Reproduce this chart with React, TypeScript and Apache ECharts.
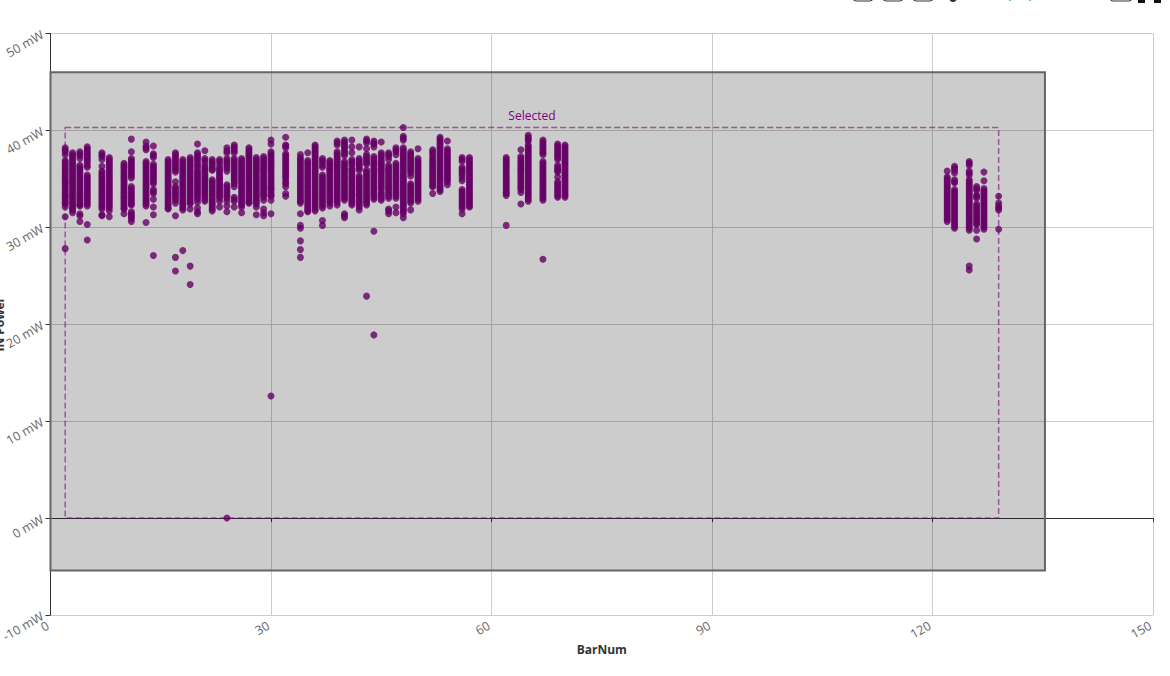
import React, { useEffect, useRef } from "react";
import * as echarts from "echarts";

const barNums = [2,3,4,5,7,8,10,11,13,14,16,17,18,19,20,21,22,23,24,25,26,27,28,29,30,32,34,35,36,37,38,39,40,41,42,43,44,45,46,47,48,49,50,52,53,54,56,57,62,64,65,67,69,70,122,123,125,126,127,129];
const powerByBar: number[][] = [
/*2*/[38.2,37.8,37.5,36.9,36.5,36.1,35.7,35.3,34.9,34.6,34.2,33.8,33.4,33.1,32.7,32.4,32.1,31.1,27.8],
/*3*/[37.7,37.3,36.9,36.5,36.1,35.7,35.3,34.9,34.5,34.1,33.7,33.3,32.9,32.5,32.1,31.8,31.5],
/*4*/[37.8,37.4,37.1,36.4,36,35.6,35.2,34.8,34.4,34,33.6,33.2,32.8,32.4,32.2,31.4,31.2,30.6],
/*5*/[38.3,37.9,37.5,37.1,36.7,36.2,35.4,35,34.6,34.2,33.8,33.4,33,32.6,32.2,30.3,28.7],
/*7*/[37.7,37.3,37,36.3,35.8,35.4,35,34.6,34.2,33.8,33.4,33,32.6,32.2,31.9,31.3,31.2],
/*8*/[37.2,36.8,36.4,36,35.6,35.2,34.8,34.4,34,33.6,33.2,32.8,32.4,32,31.7,31.1],
/*10*/[36.6,36.2,35.8,35.4,35,34.6,34.2,33.8,33.4,33,32.6,32.2,31.9,31.4],
/*11*/[39.1,37.8,37.1,36.7,36.3,35.9,35.5,35.1,34.2,33.8,33.4,33,32.6,32.3,31.6,31.2,30.9,30.6],
/*13*/[38.8,38.4,38,36.8,36.4,36,35.6,35.2,34.8,34.4,34,33.6,33.2,32.8,32.4,32.2,30.5],
/*14*/[38.4,37.6,37.2,36.5,36.1,35.7,35.3,34.9,34.5,33.9,33.5,32.9,32.1,31.3,27.1],
/*16*/[37,36.6,36.2,35.8,35.4,35,34.6,34.2,33.8,33.4,33,32.6,32.2,31.9],
/*17*/[37.7,37.3,36.9,36.5,36.1,35.7,34.7,34.2,33.8,33.4,33,32.5,31.2,26.9,25.5],
/*18*/[37,36.6,36.2,35.8,35.4,35,34.6,34.2,33.8,33.4,33,32.6,32.2,31.8,27.6],
/*19*/[37.2,36.8,36.4,36,35.6,35.2,34.8,34.4,34,33.6,33.2,32.8,32.4,31.9,26,24.1],
/*20*/[38.6,37.7,37.3,36.9,36.4,35.9,35.5,35.1,34.7,34.3,33.9,33.5,33.1,32.6,32,31.6,31.4],
/*21*/[37.9,37.1,36.6,36.3,35.9,35.5,35.1,34.7,34.3,33.9,33.5,33.1,32.7],
/*22*/[37,36.6,36.2,35.9,34.9,34.5,34.1,33.7,33.3,32.9,32.5,32.1,31.7],
/*23*/[37,36.5,36,35.6,35.2,34.8,34.4,34,33.6,33.2,32.7,32.1],
/*24*/[38.2,37.7,37.1,36.7,36.3,35.8,34.4,34,33.6,33.2,32.7,32.2,31.6,0],
/*25*/[38.5,38.1,37.7,37.1,36.7,36.3,35.9,35.5,35.1,34.7,34.2,33.1,32.7,32.1],
/*26*/[37.1,36.7,36.3,35.9,35.5,35.1,34.7,34.3,33.9,33.5,33.1,32.7,32.3,32.1,31.5],
/*27*/[38.2,37.8,37.4,37,36.6,36.2,35.8,35.4,35,34.6,34.2,33.8,33.4,33,32.6,32.5],
/*28*/[37.2,36.8,36.4,36,35.6,35.2,34.8,34.4,34,33.6,33.2,32.8,32.4,32.1,31.3],
/*29*/[37.3,36.9,36.5,36.1,35.7,35.3,34.9,34.5,34.1,33.7,33.3,32.8,31.9,31.5,31.2],
/*30*/[39,38.6,37.8,37.4,37,36.6,36.2,35.8,35.4,35,34.6,34.2,33.9,33.5,33.2,32.8,31.4,12.6],
/*32*/[39.3,38.5,38.2,37.6,37.2,36.8,36.4,36,35.6,35.2,34.7,34.2,33.5,33.2],
/*34*/[37.5,37,36.6,36.2,35.8,35.4,35,34.6,34.2,33.8,33.4,33,32.7,32.5,31.4,30.2,29.9,28.6,27.7,26.9],
/*35*/[37.7,36.9,36.5,36.1,35.7,35.3,34.9,34.5,34.1,33.7,33.3,32.9,32.5,32.1,31.7,31.6],
/*36*/[38.5,38.1,37.7,37.3,36.9,36.5,36.1,35.7,35.3,34.9,34.5,34.1,33.7,33.3,32.9,32.5,32.1,31.7],
/*37*/[37.1,36.7,36.2,35.4,35,34.6,34.2,33.8,33.4,33,32.6,32.2,32,30.7,30.2],
/*38*/[36.9,36.5,36.1,35.7,35.3,34.9,34.5,34.1,33.7,33.3,32.9,32.5,32.2],
/*39*/[38.9,38.5,37.8,37.4,37,36.6,36.2,35.8,35.4,35,34.6,34.2,33.8,33.4,33,32.6,32.3],
/*40*/[39,38.6,38.2,37.8,37.4,36.8,36.4,36,35.6,35.2,34.8,34.4,34,33.6,33.2,32.8,31.4,31],
/*41*/[39,38.3,37.7,37,36.6,36.1,35.7,35.3,34.9,34.5,34.1,33.7,33.3,32.9,32.5,32.3],
/*42*/[38.3,37.1,36.7,36.3,35.9,35.3,34.9,34.5,34.1,33.7,33.3,32.9,32.5,32.1,31.8],
/*43*/[39.1,38.7,38.1,37.5,37.1,36.7,36.5,35.9,35.5,35.1,34.7,34.3,33.9,33.5,33.1,32.7,32.3,22.9],
/*44*/[38.9,38.6,38.3,37.3,36.9,36.5,36.1,35.7,35.3,34.9,34.5,34.1,33.7,33.3,32.9,29.6,18.9],
/*45*/[38.8,37.7,37.3,36.9,36.5,36.1,35.7,35.3,34.9,34.5,34.1,33.6,33.2,32.8],
/*46*/[37.7,37.3,37,36.4,36,35.6,35.2,34.8,34.4,34,33.6,33.2,33,31.9,31.4],
/*47*/[38.2,37.8,37.5,36.6,36.2,35.8,35.4,35,34.6,34.2,33.8,33.4,33,32.1,31.5],
/*48*/[40.3,39.4,39,38.2,37.8,37.4,37,36.6,36.2,35.8,35.4,35,34.6,34.2,33.8,33.4,33,32.6,32.2,31.8,31.4,31],
/*49*/[37.8,37.4,37,36.6,36.2,35.8,35.3,34.5,34.1,33.7,33.3,32.9,32.5,31.8],
/*50*/[38.1,37.1,36.7,36.3,35.9,35.5,35.1,34.7,34.3,33.9,33.5,33.1,32.7],
/*52*/[38,37.6,37.3,36.9,36.5,36.1,35.7,35.3,34.9,34.5,34.2,33.5],
/*53*/[39.3,38.9,38.5,38.1,37.7,37.3,36.9,36.5,36.1,35.7,35.3,34.9,34.5,34.1,33.7],
/*54*/[38.9,38.1,37.7,37.3,36.9,36.5,36.1,35.7,35.3,34.9,34.4],
/*56*/[37.2,36.8,36.2,35.8,35.4,34.8,33.9,33.5,33.1,32.7,32.3,31.9,31.4],
/*57*/[37.2,36.8,36.4,36,35.6,35.2,34.8,34.4,34,33.6,33.2,32.8,32.4,32.1],
/*62*/[37.2,36.8,36.4,36,35.6,35.2,34.8,34.4,34,33.6,33.3,30.2],
/*64*/[38,37.3,36.9,36.5,36.1,35.7,35.3,34.9,34.5,34.1,33.6,32.4],
/*65*/[39.5,39.1,38.9,38.3,37.9,37.5,37.1,36.7,36.3,35.9,35.5,35.1,34.7,34.3,33.9,33.5,33.1,32.7],
/*67*/[39,38.6,38.2,37.8,37.5,36.8,36.4,36,35.6,35.2,34.8,34.4,34,33.6,33.2,32.8,26.7],
/*69*/[38.6,38.2,37.8,37.4,37,36.4,36,35.7,35.2,34.7,34.3,33.9,33.5,33.1],
/*70*/[38.5,38.1,37.7,37.3,36.9,36.5,36.1,35.7,35.3,34.9,34.5,34.1,33.7,33.3,33.1],
/*122*/[35.8,35.2,34.8,34.4,34,33.6,33.2,32.8,32.4,32,31.6,31.2,30.8,30.6],
/*123*/[36.3,35.9,35.6,34.9,34.6,33.9,33.5,33.1,32.7,32.3,31.9,31.5,31.1,30.7,30.3,29.9],
/*125*/[36.8,36.4,35.8,35.4,34.9,34.5,34.1,33.7,33.3,32.9,32.5,32.1,31.7,31.3,30.9,30.5,30.1,29.7,26,25.6],
/*126*/[34.2,33.8,33.3,33,32.4,32,31.6,31.2,30.8,30.4,30.3,29.7,28.8],
/*127*/[35.7,34.8,34,33.6,33.2,32.8,32.4,32,31.6,31.2,30.8,30.4,30,29.8],
/*129*/[33.2,32.5,32,31.8,29.8],
];
const morePowerByBar: number[][] = [
/*2*/[38,36.7,36.3,35.9,35.5,35.1,34.7,34.4,34,33.6,33.2,32.9,32.5],
/*3*/[37.5,37.1,36.7,36.3,35.9,35.5,35.1,34.7,34.3,33.9,33.5,33.1,32.7,32.3,31.9],
/*4*/[37.6,36.2,35.8,35.4,35,34.6,34.2,33.8,33.4,33,32.6,32.3],
/*5*/[38.1,37.7,37.3,36.9,36.4,35.2,34.8,34.4,34,33.6,33.2,32.8,32.4],
/*7*/[37.5,35.6,35.2,34.8,34.4,34,33.6,33.2,32.8,32.4,32.1],
/*8*/[37,36.6,36.2,35.8,35.4,35,34.6,34.2,33.8,33.4,33,32.6,32.2],
/*10*/[36.4,36,35.6,35.2,34.8,34.4,34,33.6,33.2,32.8,32.4,32],
/*11*/[36.9,36.5,36.1,35.7,35.3,34,33.6,33.2,32.8,32.4,31.4,31.1],
/*13*/[38.2,36.6,36.2,35.8,35.4,35,34.6,34.2,33.8,33.4,33,32.6],
/*14*/[37.4,36.3,35.9,35.5,35.1,34.7,33.7],
/*16*/[36.8,36.4,36,35.6,35.2,34.8,34.4,34,33.6,33.2,32.8,32.4,32],
/*17*/[37.5,37.1,36.7,36.3,35.9,34,33.6,33.2,32.8],
/*18*/[36.8,36.4,36,35.6,35.2,34.8,34.4,34,33.6,33.2,32.8,32.4,32],
/*19*/[37,36.6,36.2,35.8,35.4,35,34.6,34.2,33.8,33.4,33,32.6],
/*20*/[37.5,37.1,36.6,36.2,35.7,35.3,34.9,34.5,34.1,33.7,33.3,32.9],
/*21*/[36.9,36.1,35.7,35.3,34.9,34.5,34.1,33.7,33.3,32.9],
/*22*/[36.8,36.4,36,34.7,34.3,33.9,33.5,33.1,32.7,32.3,31.9],
/*23*/[36.8,36.2,35.8,35.4,35,34.6,34.2,33.8,33.4,33],
/*24*/[37.9,36.9,36.5,36.1,34.2,33.8,33.4,33],
/*25*/[38.3,37.9,36.9,36.5,36.1,35.7,35.3,34.9,34.5,32.9],
/*26*/[36.9,36.5,36.1,35.7,35.3,34.9,34.5,34.1,33.7,33.3,32.9,32.5],
/*27*/[38,37.6,37.2,36.8,36.4,36,35.6,35.2,34.8,34.4,34,33.6,33.2,32.8],
/*28*/[37,36.6,36.2,35.8,35.4,35,34.6,34.2,33.8,33.4,33,32.6],
/*29*/[37.1,36.7,36.3,35.9,35.5,35.1,34.7,34.3,33.9,33.5,33.1],
/*30*/[37.6,37.2,36.8,36.4,36,35.6,35.2,34.8,34.4,34,33.7,33.3],
/*32*/[38.4,37.4,37,36.6,36.2,35.8,35.4,35,34.5],
/*34*/[37.2,36.8,36.4,36,35.6,35.2,34.8,34.4,34,33.6,33.2,32.8],
/*35*/[36.7,36.3,35.9,35.5,35.1,34.7,34.3,33.9,33.5,33.1,32.7,32.3,31.9],
/*36*/[38.3,37.9,37.5,37.1,36.7,36.3,35.9,35.5,35.1,34.7,34.3,33.9,33.5,33.1,32.7,32.3,31.9],
/*37*/[36.9,36.4,35.2,34.8,34.4,34,33.6,33.2,32.8,32.4],
/*38*/[36.7,36.3,35.9,35.5,35.1,34.7,34.3,33.9,33.5,33.1,32.7],
/*39*/[38.7,37.6,37.2,36.8,36.4,36,35.6,35.2,34.8,34.4,34,33.6,33.2,32.8],
/*40*/[38.8,38.4,38,37.6,36.6,36.2,35.8,35.4,35,34.6,34.2,33.8,33.4,33,31.2],
/*41*/[36.8,36.4,35.9,35.5,35.1,34.7,34.3,33.9,33.5,33.1,32.7],
/*42*/[36.9,36.5,36.1,35.1,34.7,34.3,33.9,33.5,33.1,32.7,32.3],
/*43*/[38.9,37.3,36.9,35.7,35.3,34.9,34.5,34.1,33.7,33.3,32.9,32.5],
/*44*/[38.7,37.1,36.7,36.3,35.9,35.5,35.1,34.7,34.3,33.9,33.5,33.1],
/*45*/[37.5,37.1,36.7,36.3,35.9,35.5,35.1,34.7,34.3,33.9,33.4,33],
/*46*/[37.5,36.2,35.8,35.4,35,34.6,34.2,33.8,33.4,31.7],
/*47*/[38,36.4,36,35.6,35.2,34.8,34.4,34,33.6,33.2],
/*48*/[39.2,38,37.6,37.2,36.8,36.4,36,35.6,35.2,34.8,34.4,34,33.6,33.2,32.8,32.4,32,31.6],
/*49*/[37.6,37.2,36.8,36.4,36,35.6,34.3,33.9,33.5,33.1,32.7],
/*50*/[36.9,36.5,36.1,35.7,35.3,34.9,34.5,34.1,33.7,33.3,32.9],
/*52*/[37.8,37.1,36.7,36.3,35.9,35.5,35.1,34.7,34.3],
/*53*/[39.1,38.7,38.3,37.9,37.5,37.1,36.7,36.3,35.9,35.5,35.1,34.7,34.3,33.9],
/*54*/[37.9,37.5,37.1,36.7,36.3,35.9,35.5,35.1,34.7],
/*56*/[37,36,35.6,35.1,33.7,33.3,32.9,32.5,32.1],
/*57*/[37,36.6,36.2,35.8,35.4,35,34.6,34.2,33.8,33.4,33,32.6,32.2],
/*62*/[37,36.6,36.2,35.8,35.4,35,34.6,34.2,33.8,33.5],
/*64*/[37.1,36.7,36.3,35.9,35.5,35.1,34.7,34.3,33.9],
/*65*/[39.3,38.5,38.1,37.7,37.3,36.9,36.5,36.1,35.7,35.3,34.9,34.5,34.1,33.7,33.3,32.9],
/*67*/[38.8,38.4,38,37.7,36.6,36.2,35.8,35.4,35,34.6,34.2,33.8,33.4,33],
/*69*/[38.4,38,37.6,37.2,36.2,35.9,34.5,34.1,33.7,33.3],
/*70*/[38.3,37.9,37.5,37.1,36.7,36.3,35.9,35.5,35.1,34.7,34.3,33.9,33.5],
/*122*/[35,34.6,34.2,33.8,33.4,33,32.6,32.2,31.8,31.4,31],
/*123*/[36.1,34.7,33.7,33.3,32.9,32.5,32.1,31.7,31.3,30.9,30.5,30.1],
/*125*/[36.6,35.6,34.7,34.3,33.9,33.5,33.1,32.7,32.3,31.9,31.5,31.1,30.7,30.3,29.9],
/*126*/[34,33.2,32.2,31.8,31.4,31,30.6],
/*127*/[33.8,33.4,33,32.6,32.2,31.8,31.4,31,30.6,30.2],
/*129*/[32.2],
];
const xTicks = { min: 0, max: 150, interval: 30 };
const yTicks = { min: -10, max: 50, interval: 10 };
const backgroundArea = { x: [0, 135.3], y: [-5.4, 46] };
const selectedArea = { x: [2, 129], y: [0, 40.3], label: "Selected" };

const points: number[][] = [];
barNums.forEach((bar, i) => {
  powerByBar[i].forEach((p) => points.push([bar, p]));
  morePowerByBar[i].forEach((p) => points.push([bar, p]));
});

export default function App() {
  const ref = useRef<HTMLDivElement>(null);
  useEffect(() => {
    const chart = echarts.init(ref.current!, null, { renderer: "svg" });
    const font = "Open Sans";
    chart.setOption({
      animation: false,
      textStyle: { fontFamily: font },
      grid: { left: 50.5, right: 17, top: 33.5, bottom: 61, containLabel: false, outerBoundsMode: "none" },
      xAxis: [
        {
          type: "value", ...xTicks, position: "bottom",
          name: "BarNum", nameLocation: "middle", nameGap: 28, nameMoveOverlap: false,
          nameTextStyle: { fontWeight: "bold", fontSize: 12, color: "#333", fontFamily: font },
          axisLine: { show: false, onZero: false },
          axisTick: { show: false },
          axisLabel: { rotate: 30, color: "#666", fontSize: 12.5, fontFamily: font, margin: 8, padding: [0, 3, 0, 0], showMinLabel: true, showMaxLabel: true, hideOverlap: false },
          splitLine: { show: true, lineStyle: { color: "#ccc", width: 1 } },
        },
        {
          type: "value", ...xTicks, position: "bottom",
          axisLine: { show: true, onZero: true, lineStyle: { color: "#333", width: 1 } },
          axisTick: { show: true, length: 4, lineStyle: { color: "#333" } },
          axisLabel: { show: false },
          splitLine: { show: false },
        },
      ],
      yAxis: {
        type: "value", ...yTicks,
        name: "IN Power", nameLocation: "middle", nameGap: 45, nameMoveOverlap: false,
        nameTextStyle: { fontWeight: "bold", fontSize: 12, color: "#333", fontFamily: font },
        axisLine: { show: true, onZero: false, lineStyle: { color: "#333", width: 1 } },
        axisTick: { show: true, length: 5, lineStyle: { color: "#333" } },
        axisLabel: { rotate: 30, color: "#666", fontSize: 12.5, fontFamily: font, margin: 8, formatter: "{value} mW" },
        splitLine: { show: true, lineStyle: { color: "#ccc", width: 1 } },
      },
      series: [
        {
          type: "scatter", xAxisIndex: 0, yAxisIndex: 0, data: points,
          symbol: "circle", symbolSize: 7,
          itemStyle: { color: "#660066", opacity: 0.8 },
          markArea: {
            silent: true,
            data: [
              [
                { coord: [backgroundArea.x[0], backgroundArea.y[1]], itemStyle: { color: "rgba(0,0,0,0.2)", borderColor: "#666", borderWidth: 2 } },
                { coord: [backgroundArea.x[1], backgroundArea.y[0]] },
              ],
              [
                {
                  name: selectedArea.label,
                  coord: [selectedArea.x[0], selectedArea.y[1]],
                  itemStyle: { color: "rgba(0,0,0,0)", borderColor: "rgba(128,0,128,0.6)", borderWidth: 1.5, borderType: [6, 3] },
                  label: { show: true, position: "top", color: "#800080", fontSize: 12, fontFamily: font, distance: 5 },
                },
                { coord: [selectedArea.x[1], selectedArea.y[0]] },
              ],
            ],
          },
        },
      ],
      graphic: [
        ...[853, 883, 913, 1110].map((x) => ({
          type: "rect", x, y: -12, shape: { width: x === 1110 ? 22 : 20, height: 13, r: 3 },
          style: { fill: "none", stroke: "#333", lineWidth: 1 }, silent: true,
        })),
        { type: "circle", x: 953, y: -2, shape: { r: 4 }, style: { fill: "#333" }, silent: true },
        { type: "rect", x: 1009, y: -3, shape: { width: 2, height: 4 }, style: { fill: "#6bb8e8" }, silent: true },
        { type: "rect", x: 1029, y: -3, shape: { width: 2, height: 4 }, style: { fill: "#6bb8e8" }, silent: true },
        { type: "rect", x: 1138, y: -3, shape: { width: 7, height: 6 }, style: { fill: "#111" }, silent: true },
        { type: "rect", x: 1154, y: -3, shape: { width: 7, height: 6 }, style: { fill: "#111" }, silent: true },
      ],
    });
    return () => chart.dispose();
  }, []);
  return <div ref={ref} style={{ position: "absolute", left: 0, top: 0, width: 1170, height: 676 }} />;
}
